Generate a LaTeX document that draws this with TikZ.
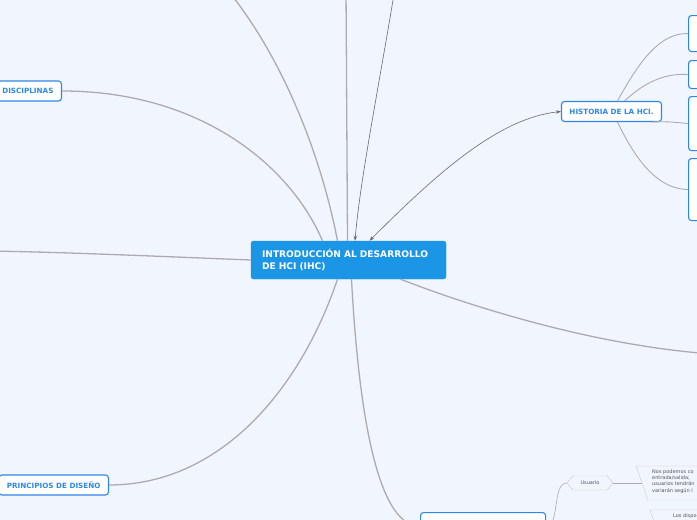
\documentclass[tikz,border=0pt]{standalone}
\usepackage{fontspec}
\setsansfont{DejaVu Sans}
\usetikzlibrary{shapes.symbols,arrows.meta}
\definecolor{bgcol}{RGB}{241,245,254}
\definecolor{rootblue}{RGB}{27,150,230}
\definecolor{topicblue}{RGB}{45,135,232}
\definecolor{linegray}{RGB}{172,172,176}
\definecolor{relgray}{RGB}{105,105,110}
\definecolor{notegray}{RGB}{85,85,90}
\tikzset{
    root/.style={
        fill=rootblue, draw=rootblue, rounded corners=2.5pt,
        text=white, font=\sffamily\bfseries\fontsize{9.1}{12}\selectfont,
        text width=173pt, align=left, inner xsep=11pt,
        minimum width=195pt, minimum height=38pt
    },
    topic/.style={
        fill=white, draw=topicblue, line width=1.1pt, rounded corners=3pt,
        text=topicblue, font=\sffamily\bfseries\fontsize{7.2}{8}\selectfont,
        inner xsep=8pt, minimum height=20pt
    },
    leaf/.style={
        topic, minimum width=30pt, anchor=north west
    },
    tag/.style={
        signal, signal to=east and west, signal pointer angle=100,
        draw=gray!45, fill=bgcol, text=notegray,
        font=\sffamily\fontsize{5}{6}\selectfont,
        minimum width=46pt, minimum height=14pt, inner sep=1pt
    },
    notetext/.style={
        text=notegray, font=\sffamily\fontsize{5}{6.4}\selectfont,
        align=left, inner sep=0pt, anchor=north west
    },
    branch/.style={draw=linegray, line width=1.3pt},
    twig/.style={draw=linegray, line width=0.9pt},
    rel/.style={draw=relgray, line width=0.6pt}
}
\newcommand{\notebox}[3]{
    \draw[draw=gray!40, fill=bgcol] (#1,#2) -- ++(140,0) -- ++(12,#3) -- ++(-140,0) -- cycle;
}

\begin{document}
\begin{tikzpicture}[x=1pt,y=-1pt]
    \useasboundingbox (0,0) rectangle (697,520);
    \fill[bgcol] (0,0) rectangle (697,520);
    \clip (0,0) rectangle (697,520);

    % Ends that lie outside the page
    \coordinate (outtl) at (226,-12);
    \coordinate (outtop) at (346,-12);
    \coordinate (outrel) at (395,-12);
    \coordinate (outleft) at (-12,251);
    \coordinate (outright) at (712,354);
    \coordinate (nosleft) at (642,483);

    % Notes at the bottom right
    \notebox{636}{466}{34}
    \notebox{650}{510}{34}
    \node[notetext] (nospodemos) at (652,469) {Nos podemos co\\entrada/salida; \\usuarios tendrán\\variarán según l};
    \node[notetext] (losdispo) at (673,513) {Los dispo};

    % Nodes
    \node[root] (root) at (348.5,260) {INTRODUCCIÓN AL DESARROLLO\\DE HCI (IHC)};
    \node[topic] (historia) at (611.5,111.5) {HISTORIA DE LA HCI.};
    \node[topic, anchor=east] (disciplinas) at (62,91) {DISCIPLINAS};
    \node[topic, anchor=east] (principios) at (109,485) {PRINCIPIOS DE DISEÑO};
    \node[topic, minimum width=125pt, minimum height=28pt, anchor=north west] (componentes) at (420,512) {COMPONENTES DE UN SIS\\[8pt]};
    \node[tag] (usuario) at (590,483) {Usuario};

    \node[leaf, minimum height=36pt] (hist1) at (688,15) {};
    \node[leaf, minimum height=28pt] (hist2) at (688,60) {};
    \node[leaf, minimum height=54pt] (hist3) at (688,96) {};
    \node[leaf, minimum height=62pt] (hist4) at (688,158) {};

    % Branches of the central topic
    \draw[branch] ([xshift=-11pt]root.north) .. controls (322,160) and (285,60) .. (outtl);
    \draw[branch] ([xshift=-26pt]root.north) .. controls (290,165) and (200,91) .. (disciplinas.east);
    \draw[branch] ([xshift=-1pt]root.north) -- (outtop);
    \draw[branch] (root.west) .. controls (150,256) and (60,252) .. (outleft);
    \draw[branch] ([xshift=-11pt]root.south) .. controls (300,390) and (220,485) .. (principios.east);
    \draw[branch] ([xshift=3pt]root.south) .. controls (358,400) and (375,526) .. (componentes.west);
    \draw[branch] ([xshift=52pt]root.south) .. controls (480,310) and (600,346) .. (outright);

    % Relationships
    \draw[rel, -{Stealth[length=5pt,width=3.5pt]}] (outrel) .. controls (380,80) and (360,180) .. ([xshift=6.5pt]root.north);
    \draw[rel, {Stealth[length=5pt,width=3.5pt]}-{Stealth[length=5pt,width=3.5pt]}] ([xshift=21pt]root.north) .. controls (440,170) and (500,118) .. (historia.west);

    % Subtopics
    \draw[twig] ([xshift=6pt]historia.north) .. controls (640,60) and (660,33) .. (hist1.west);
    \draw[twig] ([xshift=13pt]historia.north) .. controls (645,82) and (665,73) .. (hist2.west);
    \draw[twig] ([xshift=-10pt]historia.south east) .. controls (670,121) and (680,123) .. (hist3.west);
    \draw[twig] ([xshift=6pt]historia.south) .. controls (638,165) and (660,189) .. (hist4.west);
    \draw[twig, line width=0.6pt] (componentes.east) .. controls (560,526) and (552,483) .. (usuario.west);
    \draw[twig, line width=0.6pt] (usuario.east) -- (nosleft);
\end{tikzpicture}
\end{document}
